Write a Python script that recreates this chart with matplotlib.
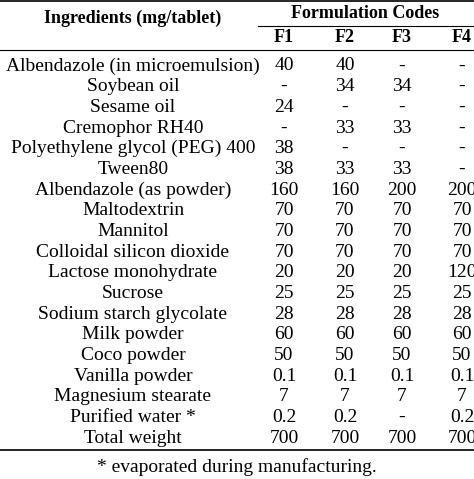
import matplotlib
matplotlib.use("Agg")
import matplotlib.pyplot as plt
from matplotlib.lines import Line2D

ingredients = ["Albendazole (in microemulsion)", "Soybean oil", "Sesame oil", "Cremophor RH40",
               "Polyethylene glycol (PEG) 400", "Tween80", "Albendazole (as powder)", "Maltodextrin",
               "Mannitol", "Colloidal silicon dioxide", "Lactose monohydrate", "Sucrose",
               "Sodium starch glycolate", "Milk powder", "Coco powder", "Vanilla powder",
               "Magnesium stearate", "Purified water *", "Total weight"]
codes = ["F1", "F2", "F3", "F4"]
F1 = ["40", "-", "24", "-", "38", "38", "160", "70", "70", "70", "20", "25", "28", "60", "50", "0.1", "7", "0.2", "700"]
F2 = ["40", "34", "-", "33", "-", "33", "160", "70", "70", "70", "20", "25", "28", "60", "50", "0.1", "7", "0.2", "700"]
F3 = ["-", "34", "-", "33", "-", "33", "200", "70", "70", "70", "20", "25", "28", "60", "50", "0.1", "7", "-", "700"]
F4 = ["-", "-", "-", "-", "-", "-", "200", "70", "70", "70", "120", "25", "28", "60", "50", "0.1", "7", "0.2", "700"]

W, H = 474, 479
fig = plt.figure(figsize=(W/100, H/100), dpi=100)
fam = ["Liberation Serif", "DejaVu Serif"]
fs = 14

def T(x, y, s, size=fs, **kw):
    fig.text(x/W, 1 - y/H, s, ha="center", va="center", family=fam, fontsize=size, **kw)

def L(x0, x1, y, lw=1.0):
    fig.add_artist(Line2D([x0/W, x1/W], [1-y/H, 1-y/H], color="black", lw=lw))

L(0, W, 1, 1.2)
T(133, 18, "Ingredients (mg/tablet)", size=13, weight="bold")
T(365, 13, "Formulation Codes", size=13, weight="bold")
L(258, W, 26, 0.8)
xs = [284, 345, 402, 462]
for x, c in zip(xs, codes):
    T(x, 38, c, size=13, weight="bold")
L(0, W, 50, 0.8)
y0, dy = 66, 20.67
for i, name in enumerate(ingredients):
    y = y0 + i*dy
    T(133, y, name)
    for x, col in zip(xs, [F1, F2, F3, F4]):
        T(x, y, col[i])
L(0, W, 450, 1.2)
T(237, 467, "* evaporated during manufacturing.")
fig.savefig("out.png", dpi=100)
